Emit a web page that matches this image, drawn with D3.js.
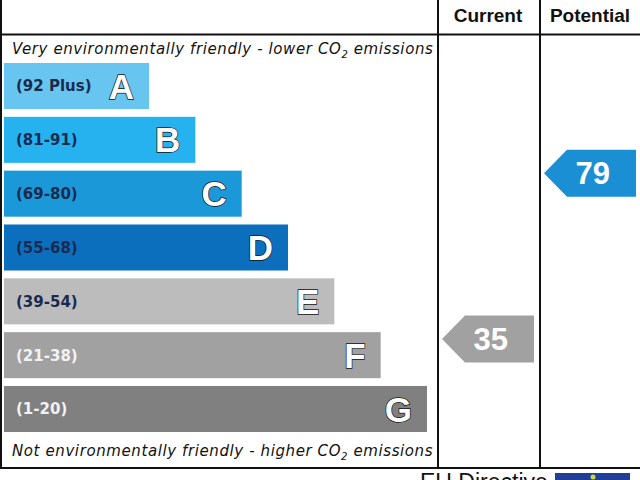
<!DOCTYPE html>
<html lang="en">
<head>
    <meta charset="utf-8">
    <title>EPC: Environmental impact (CO2) rating</title>
    <script src="https://d3js.org/d3.v7.min.js"></script>
    <style type="text/css">
        body { margin: 0; background: #fff; }
        svg { display: block; }
    </style>
</head>
<body>
<script type="text/javascript">
    // rating bands, top (best) to bottom (worst)
    var letters = ["A", "B", "C", "D", "E", "F", "G"];
    var ranges = ["(92 Plus)", "(81-91)", "(69-80)", "(55-68)", "(39-54)", "(21-38)", "(1-20)"];
    var bandRank = [1, 2, 3, 4, 5, 6, 7];
    var bandColors = ["#67c5ef", "#25b2ee", "#1a98d8", "#0b6fbd", "#bcbcbc", "#a1a1a1", "#808080"];
    var rangeColors = ["#1b2a4e", "#1b2a4e", "#1b2a4e", "#1b2a4e", "#1b2a4e", "#f2f2f2", "#f2f2f2"];

    // scores
    var columns = ["Current", "Potential"];
    var scores = [35, 79];
    var scoreColors = ["#a1a1a1", "#1a8fd4"];

    var topText = "Very environmentally friendly - lower CO";
    var bottomText = "Not environmentally friendly - higher CO";

    var w = 640;
    var h = 480;

    var svg = d3.select("body")
        .append("svg")
        .attr("width", w)
        .attr("height", h);

    // scales
    var yBand = d3.scaleBand()
        .domain(letters)
        .range([63, 432])
        .paddingInner(0.145);

    var xLen = d3.scaleLinear()
        .domain([0, 7])
        .range([102.7, 427]);

    var colX = d3.scaleBand()
        .domain(columns)
        .range([438, 642]);

    var yScore = d3.scaleLinear()
        .domain([0, 100])
        .range([471, 94]);

    var left = 4;

    // bars
    var rows = svg.selectAll("g.band")
        .data(letters)
        .enter()
        .append("g")
        .attr("class", "band");

    rows.append("rect")
        .attr("x", left)
        .attr("y", function(d) { return yBand(d); })
        .attr("width", function(d, i) { return xLen(bandRank[i]) - left; })
        .attr("height", yBand.bandwidth())
        .attr("fill", function(d, i) { return bandColors[i]; });

    rows.append("text")
        .attr("x", 16)
        .attr("y", function(d) { return yBand(d) + yBand.bandwidth() / 2; })
        .attr("dy", "0.36em")
        .attr("font-family", "DejaVu Sans, Verdana, sans-serif")
        .attr("font-weight", "bold")
        .attr("font-size", "15px")
        .attr("fill", function(d, i) { return rangeColors[i]; })
        .text(function(d, i) { return ranges[i]; });

    rows.append("text")
        .attr("x", function(d, i) { return xLen(bandRank[i]) - 15; })
        .attr("y", function(d) { return yBand(d) + yBand.bandwidth() / 2; })
        .attr("dy", "0.36em")
        .attr("text-anchor", "end")
        .attr("font-family", "Liberation Sans, Arial, sans-serif")
        .attr("font-weight", "bold")
        .attr("font-size", "35px")
        .attr("fill", "#fff")
        .attr("stroke", "#111")
        .attr("stroke-width", 1.4)
        .attr("paint-order", "stroke")
        .text(function(d) { return d; });

    // italic captions with CO2 subscript
    function caption(y, txt) {
        var t = svg.append("text")
            .attr("x", 12)
            .attr("y", y)
            .attr("font-family", "DejaVu Sans, Verdana, sans-serif")
            .attr("font-style", "italic")
            .attr("font-size", "15px")
            .attr("letter-spacing", "0.6px")
            .attr("fill", "#111");
        t.append("tspan").text(txt);
        t.append("tspan").attr("dy", 4).attr("font-size", "10px").text("2");
        t.append("tspan").attr("dy", -4).text(" emissions");
    }
    caption(54, topText);
    caption(456, bottomText);

    // score arrows
    var arrowH = 47;
    var arrows = svg.selectAll("g.score")
        .data(columns)
        .enter()
        .append("g")
        .attr("class", "score");

    arrows.append("path")
        .attr("d", function(d, i) {
            var x0 = colX(d) + 4;
            var x1 = colX(d) + colX.bandwidth() - 6;
            var yc = yScore(scores[i]);
            var p = d3.path();
            p.moveTo(x0, yc);
            p.lineTo(x0 + 23, yc - arrowH / 2);
            p.lineTo(x1, yc - arrowH / 2);
            p.lineTo(x1, yc + arrowH / 2);
            p.lineTo(x0 + 23, yc + arrowH / 2);
            p.closePath();
            return p.toString();
        })
        .attr("fill", function(d, i) { return scoreColors[i]; });

    arrows.append("text")
        .attr("x", function(d) { return colX(d) + 4 + (colX.bandwidth() - 10) * 0.53; })
        .attr("y", function(d, i) { return yScore(scores[i]); })
        .attr("dy", "0.36em")
        .attr("text-anchor", "middle")
        .attr("font-family", "Liberation Sans, Arial, sans-serif")
        .attr("font-weight", "bold")
        .attr("font-size", "31px")
        .attr("fill", "#fff")
        .text(function(d, i) { return scores[i]; });

    // column headers
    svg.selectAll("text.head")
        .data(columns)
        .enter()
        .append("text")
        .attr("class", "head")
        .attr("x", function(d) { return colX(d) + colX.bandwidth() / 2 - 1; })
        .attr("y", 22)
        .attr("text-anchor", "middle")
        .attr("font-family", "Liberation Sans, Arial, sans-serif")
        .attr("font-weight", "bold")
        .attr("font-size", "19px")
        .attr("fill", "#111")
        .text(function(d) { return d; });

    // grid lines
    var lineColor = "#111";
    svg.append("line").attr("x1", 0).attr("x2", w).attr("y1", 34.5).attr("y2", 34.5)
        .attr("stroke", lineColor).attr("stroke-width", 2);
    svg.append("line").attr("x1", 0).attr("x2", w).attr("y1", 468).attr("y2", 468)
        .attr("stroke", lineColor).attr("stroke-width", 2);
    svg.append("line").attr("x1", 1).attr("x2", 1).attr("y1", 0).attr("y2", 468)
        .attr("stroke", lineColor).attr("stroke-width", 2);
    svg.selectAll("line.col")
        .data(columns)
        .enter()
        .append("line")
        .attr("class", "col")
        .attr("x1", function(d) { return colX(d); })
        .attr("x2", function(d) { return colX(d); })
        .attr("y1", 0)
        .attr("y2", 468)
        .attr("stroke", lineColor)
        .attr("stroke-width", 2);

    // footer, cut off by the frame as in the source
    svg.append("text")
        .attr("x", 420)
        .attr("y", 490)
        .attr("font-family", "Liberation Sans, Arial, sans-serif")
        .attr("font-size", "23px")
        .attr("fill", "#111")
        .text("EU Directive");
    svg.append("rect")
        .attr("x", 555).attr("y", 473).attr("width", 75).attr("height", 20)
        .attr("fill", "#1f3f99");
    svg.append("circle")
        .attr("cx", 593).attr("cy", 477).attr("r", 2.5)
        .attr("fill", "#c8d84a");
</script>
</body>
</html>
